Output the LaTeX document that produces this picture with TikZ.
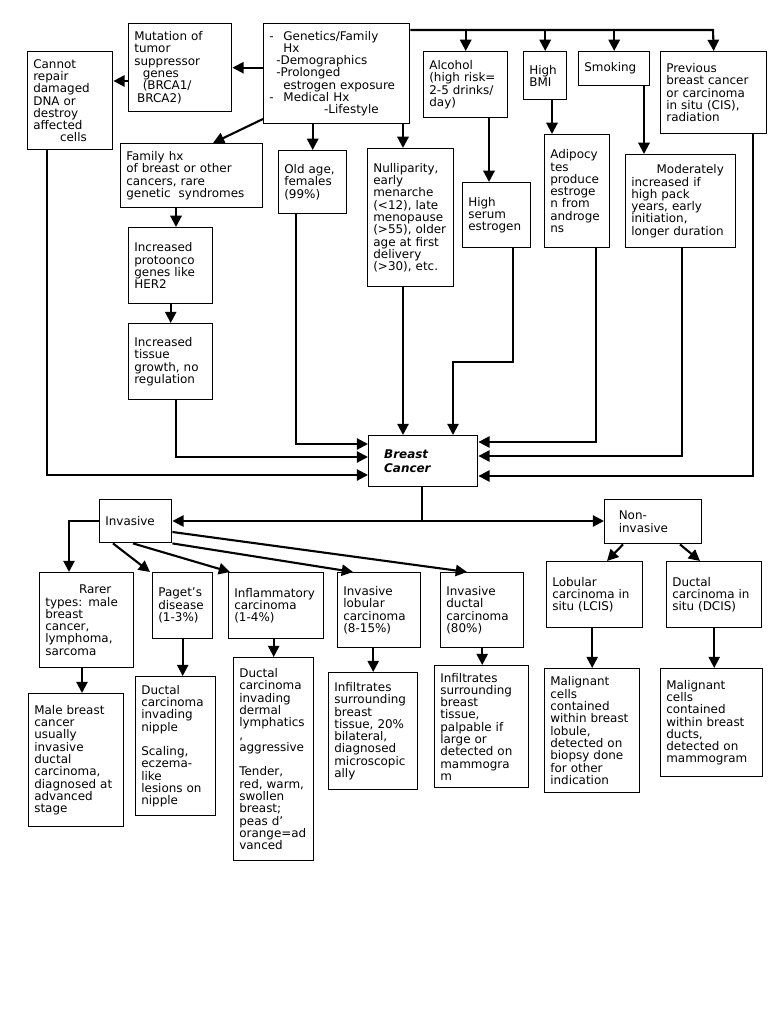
\documentclass[tikz,border=0pt]{standalone}
\usepackage{fontspec}
\setmainfont{DejaVu Sans}
\usetikzlibrary{arrows.meta}
\begin{document}
\begin{tikzpicture}[x=0.025cm, y=-0.025cm,
  box/.style 2 args={draw, line width=1pt, anchor=north west, inner xsep=4pt,
    /utils/exec={\pgfmathsetlengthmacro\boxwd{#1*0.025cm-8pt}},
    text width=\boxwd, align=left, minimum height=#2*0.025cm,
    font=\fontsize{8.5}{8.75}\selectfont},
  arr/.style={line width=1.5pt, -{Triangle[length=8pt,width=8pt]}},
  wire/.style={line width=1.5pt}]
\path[use as bounding box, fill=white] (0,0) rectangle (768,1024);
\node[box={85}{98}] (cannot) at (27,51) {Cannot\\repair\\damaged\\DNA or\\destroy\\affected\\\hspace*{19pt}cells};
\node[box={103}{88}] (mutation) at (128,23) {Mutation of\\tumor\\suppressor\\\hspace*{6pt}genes\\\hspace*{6pt}(BRCA1/\\\hspace*{2pt}BRCA2)};
\node[box={146}{100}] (genetics) at (263,23) {-\hspace{7pt}Genetics/Family\\\hspace*{10pt}Hx\\\hspace*{5pt}-Demographics\\\hspace*{5pt}-Prolonged\\\hspace*{10pt}estrogen exposure\\-\hspace{7pt}Medical Hx\\\hspace*{39pt}-Lifestyle};
\node[box={84}{66}] (alcohol) at (423,51) {Alcohol\\(high risk=\\2-5 drinks/\\day)};
\node[box={43}{48}] (bmi) at (523,51) {High\\BMI};
\node[box={71}{34}] (smoking) at (578,51) {Smoking};
\node[box={106}{82}] (previous) at (660,51) {Previous\\breast cancer\\or carcinoma\\in situ (CIS),\\radiation};
\node[box={142}{64}] (famhx) at (120,143) {Family hx\\of breast or other\\cancers, rare\\genetic~ syndromes};
\node[box={68}{63}] (oldage) at (278,150) {Old age,\\females\\(99\%)};
\node[box={86}{138}] (nullip) at (367,148) {Nulliparity,\\early\\menarche\\(<12), late\\menopause\\(>55),~older\\age at first\\delivery\\(>30), etc.};
\node[box={68}{65}] (serum) at (462,182) {High\\serum\\estrogen};
\node[box={65}{113}] (adipo) at (544,134) {Adipocy\\tes\\produce\\estroge\\n from\\androge\\ns};
\node[box={110}{93}] (moder) at (625,154) {\hspace*{18pt}Moderately\\increased if\\high pack\\years, early\\initiation,\\longer~duration};
\node[box={84}{76}] (proto) at (128,227) {Increased\\protoonco\\genes like\\HER2};
\node[box={84}{76}] (tissue) at (128,323) {Increased\\tissue\\growth, no\\regulation};
\node[box={109}{51}, font=\fontsize{8.5}{10}\selectfont\bfseries\itshape] (bc) at (368,435) {\hspace*{7pt}Breast\\\hspace*{7pt}Cancer};
\node[box={72}{43}] (inv) at (99,499) {Invasive};
\node[box={97}{44}] (noninv) at (604,499) {\hspace*{6pt}Non-\\\hspace*{6pt}invasive};
\node[box={94}{95}] (rarer) at (39,572) {\hspace*{24pt}Rarer\\types: male\\breast\\cancer,\\lymphoma,\\sarcoma};
\node[box={60}{66}] (paget) at (152,572) {Paget’s\\disease\\(1-3\%)};
\node[box={95}{66}] (inflam) at (228,572) {Inflammatory\\carcinoma\\(1-4\%)};
\node[box={83}{75}] (ilc) at (337,572) {Invasive\\lobular\\carcinoma\\(8-15\%)};
\node[box={83}{75}] (idc) at (440,572) {Invasive\\ductal\\carcinoma\\(80\%)};
\node[box={96}{66}] (lcis) at (546,561) {Lobular\\carcinoma in\\situ (LCIS)};
\node[box={95}{66}] (dcis) at (666,561) {Ductal\\carcinoma in\\situ (DCIS)};
\node[box={95}{133}] (male) at (28,693) {Male breast\\cancer\\usually\\invasive\\ductal\\carcinoma,\\diagnosed at\\advanced\\stage};
\node[box={80}{139}] (nipple) at (135,676) {Ductal\\carcinoma\\invading\\nipple\\[8.75pt]Scaling,\\eczema-\\like\\lesions on\\nipple};
\node[box={80}{203}] (dermal) at (233,657) {Ductal\\carcinoma\\invading\\dermal\\lymphatics\\,\\aggressive\\[8.75pt]Tender,\\red, warm,\\swollen\\breast;\\peas d’\\orange=ad\\vanced};
\node[box={89}{117}] (ilcinf) at (328,672) {Infiltrates\\surrounding\\breast\\tissue, 20\%\\bilateral,\\diagnosed\\microscopic\\ally};
\node[box={94}{122}] (idcinf) at (434,665) {Infiltrates\\surrounding\\breast\\tissue,\\palpable if\\large or\\detected on\\mammogra\\m};
\node[box={95}{124}] (lob) at (544,668) {Malignant\\cells\\contained\\within breast\\lobule,\\detected on\\biopsy done\\for other\\indication};
\node[box={102}{108}] (duct) at (660,668) {Malignant\\cells\\contained\\within breast\\ducts,\\detected on\\mammogram};
\coordinate (top) at (713,30);
\coordinate (split) at (422,521);
\draw[arr] (genetics.west |- mutation.east) -- (mutation.east);
\draw[arr] (mutation.west |- 0,81) -- (cannot.east |- 0,81);
\draw[arr] (genetics.west |- 0,119) -- (famhx.north -| 213,0);
\draw[arr] (oldage.north |- genetics.south) -- (oldage.north);
\draw[arr] (genetics.south -| 403,0) -- (nullip.north -| 403,0);
\draw[arr] (genetics.east |- top) -- (top) -- (previous.north);
\draw[arr] (alcohol.north |- top) -- (alcohol.north);
\draw[arr] (bmi.north |- top) -- (bmi.north);
\draw[arr] (smoking.north |- top) -- (smoking.north);
\draw[arr] (alcohol.south -| 489,0) -- (serum.north -| 489,0);
\draw[arr] (bmi.south -| 552,0) -- (adipo.north -| 552,0);
\draw[arr] (smoking.south -| 644,0) -- (moder.north -| 644,0);
\draw[arr] (famhx.south -| 176,0) -- (proto.north -| 176,0);
\draw[arr] (proto.south) -- (tissue.north);
\draw[arr] (oldage.south -| 296,0) |- (bc.west |- 0,444);
\draw[arr] (tissue.south -| 176,0) |- (bc.west |- 0,457);
\draw[arr] (cannot.south -| 47,0) |- (bc.west |- 0,475);
\draw[arr] (nullip.south -| 403,0) -- (bc.north -| 403,0);
\draw[arr] (serum.south -| 513,0) |- (453,362) -- (bc.north -| 453,0);
\draw[arr] (adipo.south -| 596,0) |- (bc.east |- 0,442);
\draw[arr] (moder.south -| 682,0) |- (bc.east |- 0,456);
\draw[arr] (previous.south -| 753,0) |- (bc.east |- 0,476);
\draw[wire] (bc.south -| split) -- (split);
\draw[arr] (split) -- (inv.east |- split);
\draw[arr] (split) -- (noninv.west |- split);
\draw[arr] (inv.west) -| (rarer.north -| 69,0);
\draw[arr] (inv.south -| 113,0) -- (paget.north -| 150,0);
\draw[arr] (inv.south -| 133,0) -- (inflam.north -| 230,0);
\draw[arr] (inv.south east) -- (ilc.north -| 353,0);
\draw[arr] (inv.east |- 0,532) -- (idc.north -| 467,0);
\draw[arr] (noninv.south -| 623,0) -- (lcis.north -| 607,0);
\draw[arr] (noninv.south -| 680,0) -- (dcis.north -| 700,0);
\draw[arr] (rarer.south -| 82,0) -- (male.north -| 82,0);
\draw[arr] (paget.south) -- (paget.south |- nipple.north);
\draw[arr] (dermal.north |- inflam.south) -- (dermal.north);
\draw[arr] (ilcinf.north |- ilc.south) -- (ilcinf.north);
\draw[arr] (idc.south) -- (idc.south |- idcinf.north);
\draw[arr] (lob.north |- lcis.south) -- (lob.north);
\draw[arr] (dcis.south) -- (dcis.south |- duct.north);
\end{tikzpicture}
\end{document}
